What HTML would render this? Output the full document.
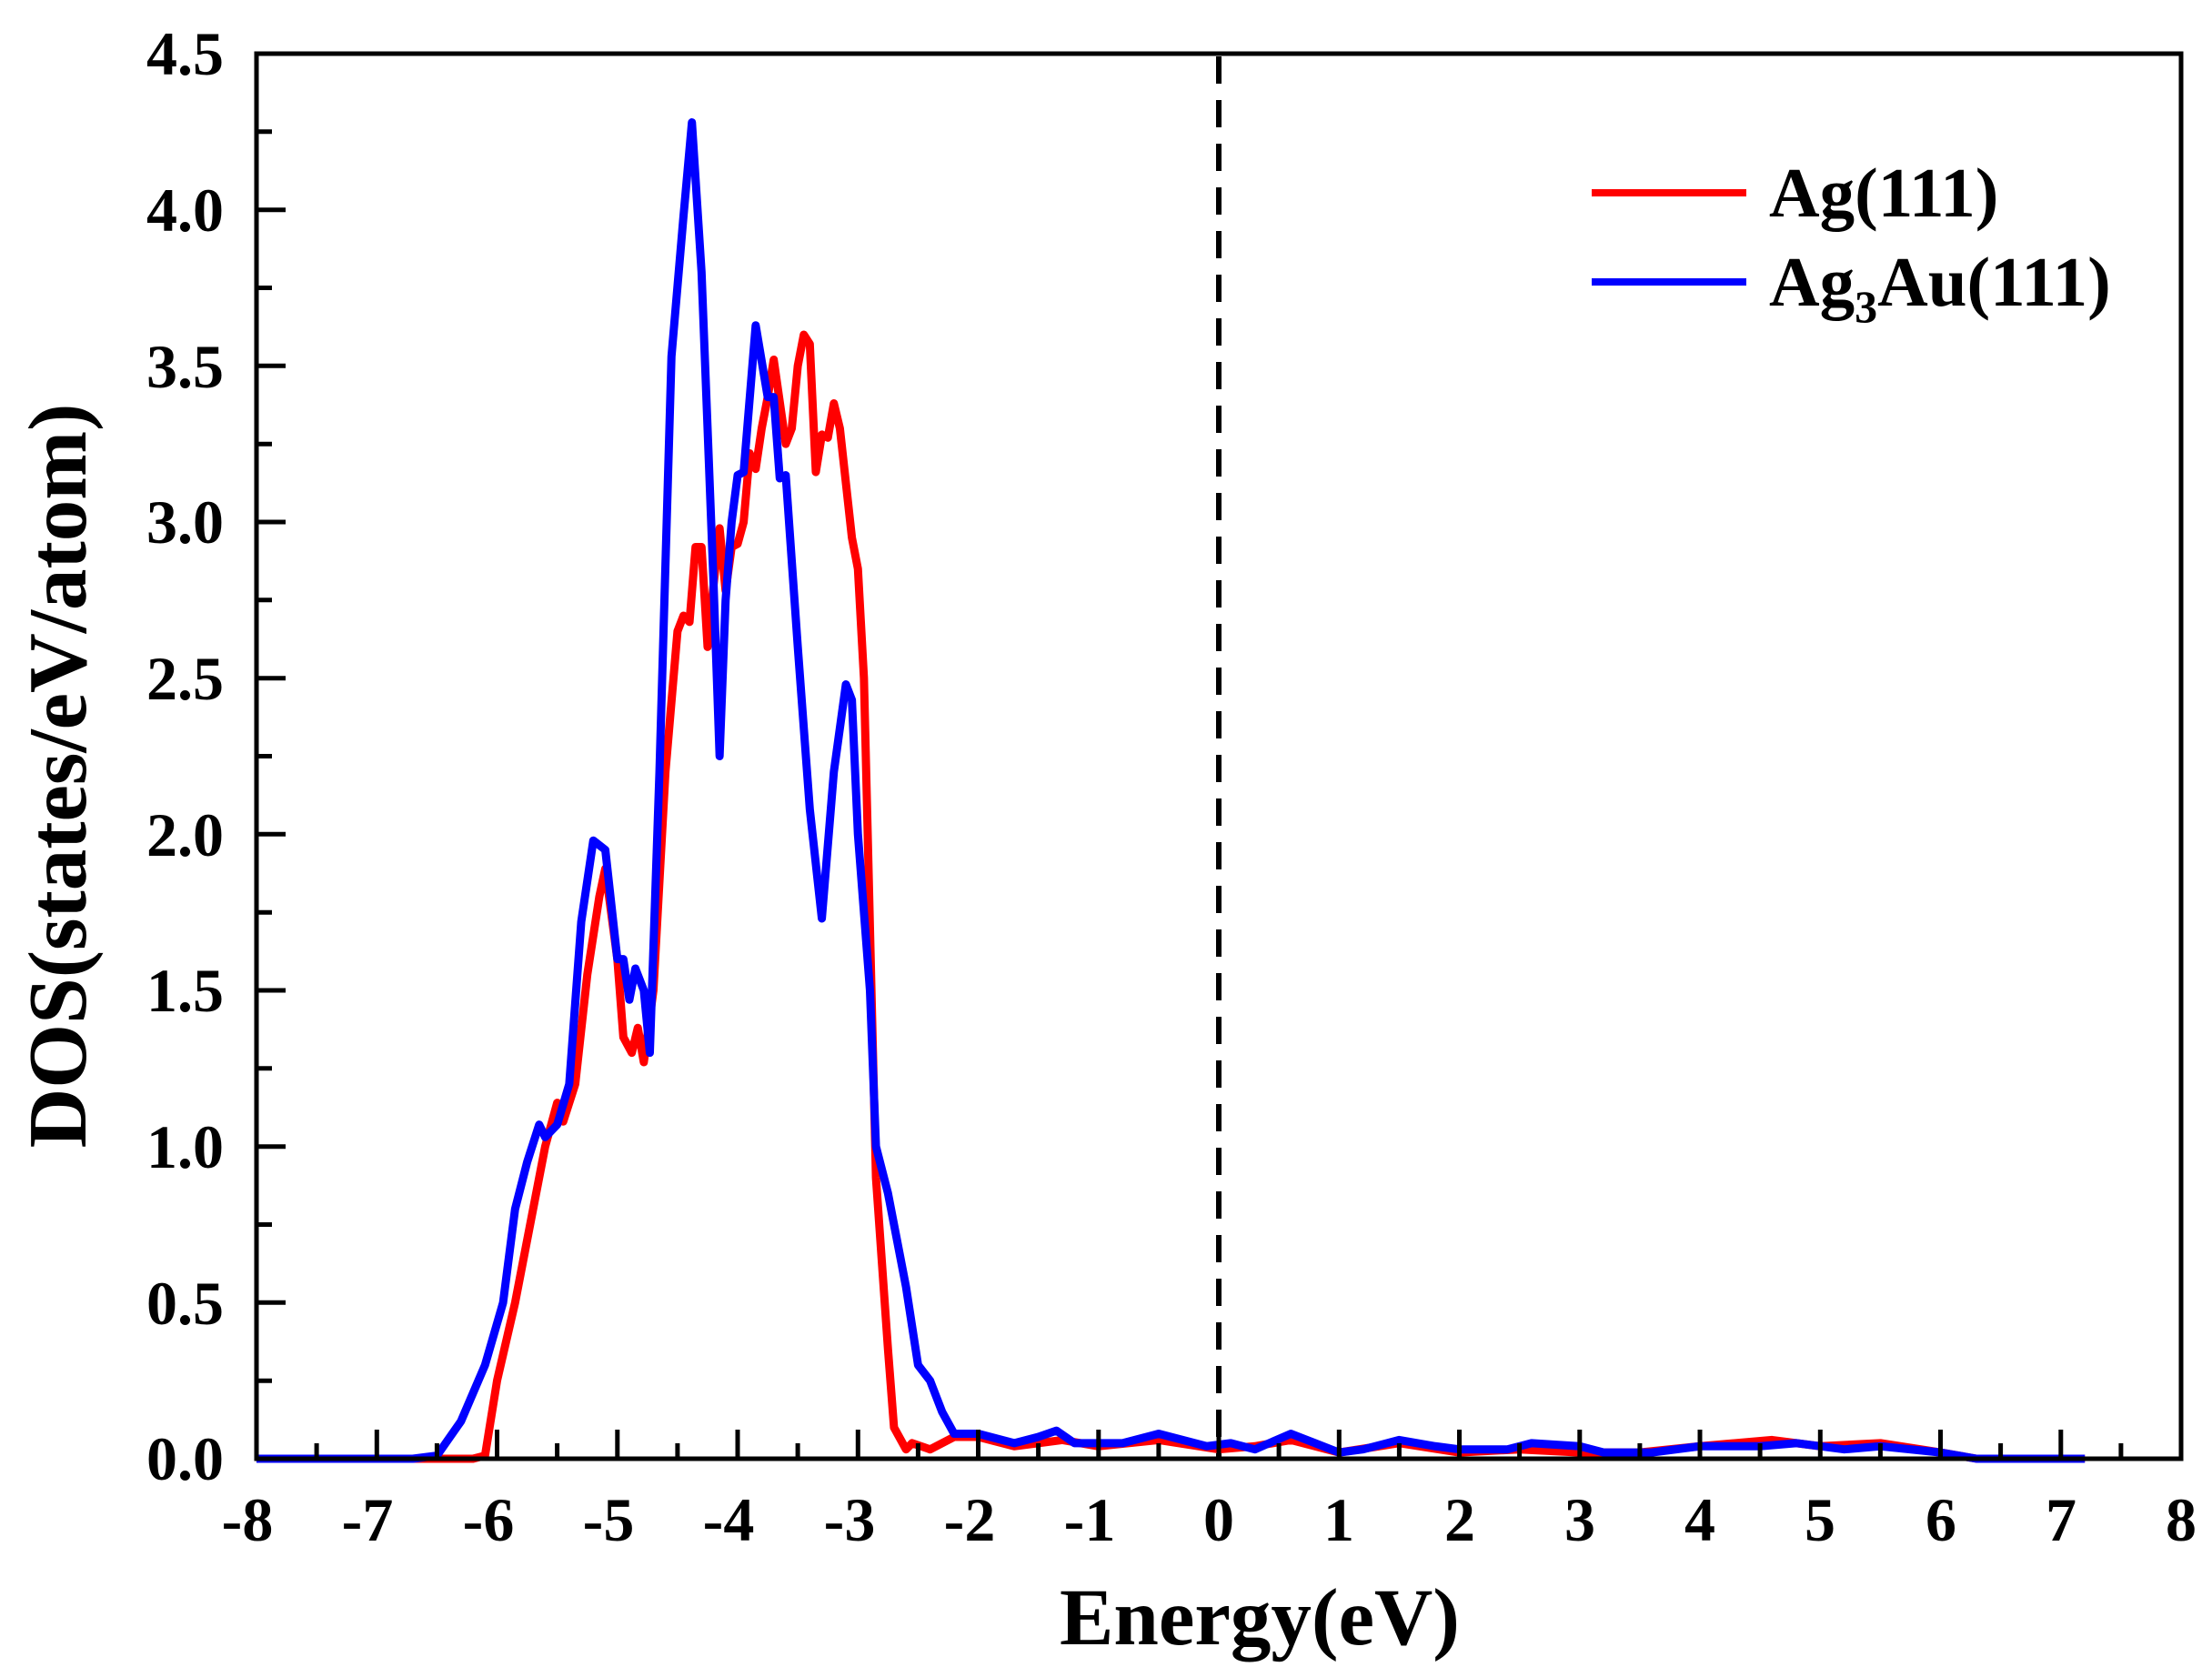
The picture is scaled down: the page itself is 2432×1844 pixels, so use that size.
<!DOCTYPE html>
<html><head><meta charset="utf-8"><style>
html,body{margin:0;padding:0;background:#fff;}
svg{display:block;}
text{font-family:"Liberation Serif",serif;font-weight:bold;fill:#000;}
</style></head><body>
<svg width="2432" height="1844" viewBox="0 0 2432 1844" xmlns="http://www.w3.org/2000/svg">
<rect width="2432" height="1844" fill="#fff"/>
<line x1="1340" y1="62" x2="1340" y2="1602" stroke="#000" stroke-width="6" stroke-dasharray="30,18"/>
<g transform="translate(1340,1604) scale(132.25,-343.33)" fill="none" stroke-linejoin="round">
<polyline vector-effect="non-scaling-stroke" stroke="#ff0000" stroke-width="9" points="-8,0 -6.2,0 -6.1,0.01 -6.0,0.25 -5.85,0.5 -5.7,0.8 -5.6,1.0 -5.5,1.14 -5.45,1.08 -5.35,1.2 -5.25,1.55 -5.15,1.8 -5.1,1.89 -5.0,1.6 -4.95,1.35 -4.88,1.3 -4.83,1.38 -4.78,1.27 -4.7,1.5 -4.6,2.2 -4.5,2.65 -4.45,2.7 -4.4,2.68 -4.35,2.92 -4.3,2.92 -4.25,2.6 -4.2,2.8 -4.15,2.98 -4.1,2.78 -4.05,2.92 -4.0,2.93 -3.95,3.0 -3.9,3.22 -3.85,3.17 -3.8,3.3 -3.75,3.4 -3.7,3.52 -3.6,3.25 -3.55,3.3 -3.5,3.5 -3.45,3.6 -3.4,3.57 -3.35,3.16 -3.3,3.28 -3.25,3.27 -3.2,3.38 -3.15,3.3 -3.05,2.95 -3.0,2.85 -2.95,2.5 -2.9,1.7 -2.85,0.9 -2.75,0.35 -2.7,0.1 -2.6,0.03 -2.55,0.05 -2.4,0.03 -2.2,0.07 -2.0,0.07 -1.7,0.04 -1.3,0.06 -1,0.04 -0.5,0.06 0,0.03 0.3,0.04 0.6,0.06 1,0.02 1.5,0.05 2,0.02 2.5,0.03 3,0.02 3.5,0.02 4,0.04 4.6,0.06 5,0.04 5.5,0.05 6,0.02 6.3,0 7.2,0"/>
<polyline vector-effect="non-scaling-stroke" stroke="#0000ff" stroke-width="9" points="-8,0 -6.7,0 -6.5,0.01 -6.3,0.12 -6.1,0.3 -5.95,0.5 -5.85,0.8 -5.75,0.95 -5.65,1.07 -5.6,1.03 -5.5,1.07 -5.4,1.2 -5.3,1.72 -5.2,1.98 -5.1,1.95 -5.0,1.6 -4.95,1.6 -4.9,1.47 -4.85,1.57 -4.78,1.5 -4.73,1.3 -4.65,2.2 -4.55,3.53 -4.45,3.98 -4.38,4.28 -4.3,3.8 -4.2,2.8 -4.15,2.25 -4.1,2.75 -4.05,3.0 -4.0,3.15 -3.95,3.16 -3.85,3.63 -3.75,3.4 -3.7,3.4 -3.65,3.14 -3.6,3.15 -3.5,2.6 -3.4,2.08 -3.3,1.73 -3.2,2.2 -3.1,2.48 -3.05,2.43 -3.0,2.0 -2.9,1.5 -2.85,1.0 -2.75,0.85 -2.6,0.55 -2.5,0.3 -2.4,0.25 -2.3,0.15 -2.2,0.08 -2.0,0.08 -1.7,0.05 -1.5,0.07 -1.35,0.09 -1.2,0.05 -0.8,0.05 -0.5,0.08 -0.3,0.06 -0.1,0.04 0.1,0.05 0.3,0.03 0.6,0.08 0.8,0.05 1.0,0.02 1.2,0.03 1.5,0.06 1.8,0.04 2.0,0.03 2.4,0.03 2.6,0.05 3.0,0.04 3.2,0.02 3.6,0.02 4.0,0.04 4.5,0.04 4.8,0.05 5.2,0.03 5.5,0.04 6.0,0.02 6.3,0 7.2,0"/>
</g>
<rect x="282" y="59" width="2116" height="1545" fill="none" stroke="#000" stroke-width="5"/>
<g stroke="#000" stroke-width="5">
<path d="M282,1604v-32M414.3,1604v-32M546.5,1604v-32M678.8,1604v-32M811,1604v-32M943.3,1604v-32M1075.5,1604v-32M1207.8,1604v-32M1340,1604v-32M1472.3,1604v-32M1604.5,1604v-32M1736.8,1604v-32M1869,1604v-32M2001.3,1604v-32M2133.5,1604v-32M2265.8,1604v-32"/>
<path d="M348.1,1604v-17M480.4,1604v-17M612.6,1604v-17M744.9,1604v-17M877.1,1604v-17M1009.4,1604v-17M1141.6,1604v-17M1273.9,1604v-17M1406.1,1604v-17M1538.4,1604v-17M1670.6,1604v-17M1802.9,1604v-17M1935.1,1604v-17M2067.4,1604v-17M2199.6,1604v-17M2331.9,1604v-17"/>
<path d="M282,1432.3h32M282,1260.7h32M282,1089h32M282,917.3h32M282,745.7h32M282,574h32M282,402.3h32M282,230.7h32"/>
<path d="M282,1518.2h17M282,1346.5h17M282,1174.8h17M282,1003.2h17M282,831.5h17M282,659.8h17M282,488.2h17M282,316.5h17M282,144.8h17"/>
</g>
<g font-size="68" text-anchor="end">
<text x="246" y="1627">0.0</text>
<text x="246" y="1456">0.5</text>
<text x="246" y="1284">1.0</text>
<text x="246" y="1112">1.5</text>
<text x="246" y="941">2.0</text>
<text x="246" y="769">2.5</text>
<text x="246" y="597">3.0</text>
<text x="246" y="426">3.5</text>
<text x="246" y="254">4.0</text>
<text x="246" y="82">4.5</text>
</g>
<g font-size="68" text-anchor="middle">
<text x="272" y="1694">-8</text>
<text x="404" y="1694">-7</text>
<text x="537" y="1694">-6</text>
<text x="669" y="1694">-5</text>
<text x="801" y="1694">-4</text>
<text x="934" y="1694">-3</text>
<text x="1066" y="1694">-2</text>
<text x="1198" y="1694">-1</text>
<text x="1340" y="1694">0</text>
<text x="1472" y="1694">1</text>
<text x="1605" y="1694">2</text>
<text x="1737" y="1694">3</text>
<text x="1869" y="1694">4</text>
<text x="2001" y="1694">5</text>
<text x="2134" y="1694">6</text>
<text x="2266" y="1694">7</text>
<text x="2398" y="1694">8</text>
</g>
<text x="1385" y="1808" font-size="89" text-anchor="middle">Energy(eV)</text>
<text transform="translate(94,853) rotate(-90)" font-size="91" text-anchor="middle">DOS(states/eV/atom)</text>
<line x1="1750" y1="212" x2="1920" y2="212" stroke="#ff0000" stroke-width="8"/>
<line x1="1750" y1="310" x2="1920" y2="310" stroke="#0000ff" stroke-width="8"/>
<text x="1945" y="238" font-size="77">Ag(111)</text>
<text x="1945" y="336" font-size="77">Ag<tspan font-size="50" dy="18">3</tspan><tspan dy="-18">Au(111)</tspan></text>
</svg>
</body></html>
